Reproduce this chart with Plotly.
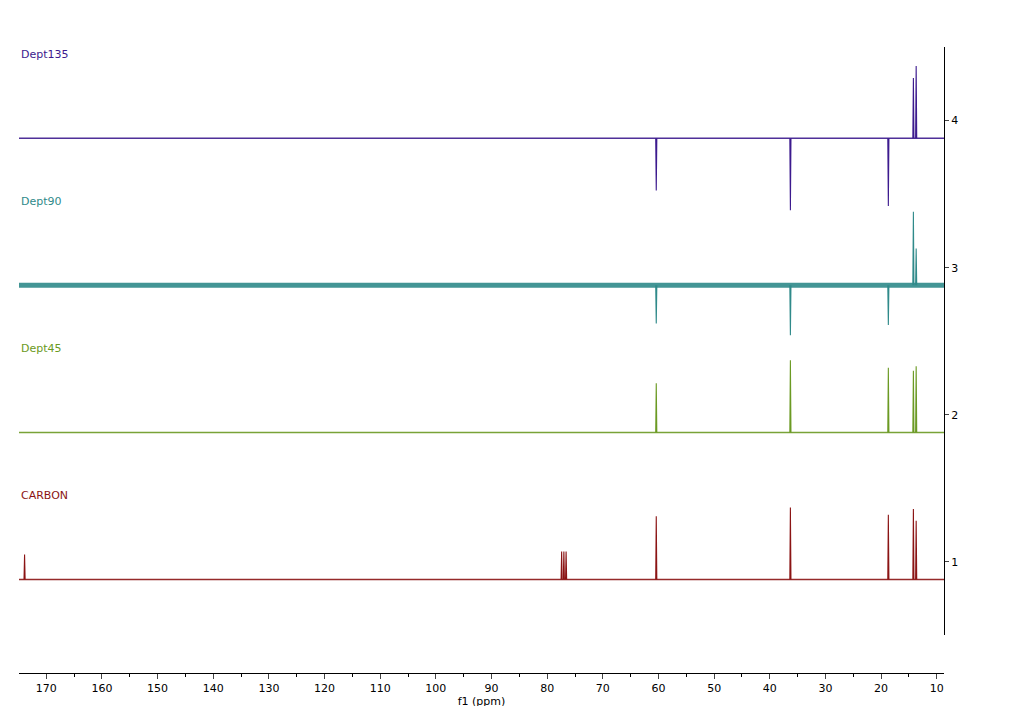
import plotly.graph_objects as go

names = ["CARBON", "Dept45", "Dept90", "Dept135"]
colors = ["#8b1414", "#6b9a23", "#2f8a8a", "#3c1a8e"]
offsets = [0.88, 1.88, 2.88, 3.88]
noise_width = [1.6, 1.4, 5, 1.4]

carbon_ppm = [173.9, 77.4, 77.0, 76.6, 60.4, 36.3, 18.7, 14.2, 13.7]
carbon_h = [0.17, 0.19, 0.19, 0.19, 0.43, 0.49, 0.44, 0.48, 0.40]
dept45_ppm = [60.4, 36.3, 18.7, 14.2, 13.7]
dept45_h = [0.335, 0.49, 0.44, 0.42, 0.45]
dept90_ppm = [60.4, 36.3, 18.7, 14.2, 13.7]
dept90_h = [-0.26, -0.34, -0.27, 0.50, 0.25]
dept135_ppm = [60.4, 36.3, 18.7, 14.2, 13.7]
dept135_h = [-0.355, -0.49, -0.46, 0.41, 0.49]

peaks = [(carbon_ppm, carbon_h), (dept45_ppm, dept45_h), (dept90_ppm, dept90_h), (dept135_ppm, dept135_h)]
x_left, x_right = 174.9, 8.7
ticks = [170, 160, 150, 140, 130, 120, 110, 100, 90, 80, 70, 60, 50, 40, 30, 20, 10]

fig = go.Figure()
for name, col, off, nw, (pp, hh) in zip(names, colors, offsets, noise_width, peaks):
    fig.add_trace(go.Scatter(x=[x_left, x_right], y=[off, off], mode="lines", opacity=0.9,
                             line=dict(color=col, width=nw), showlegend=False, hoverinfo="skip"))
    xs, ys = [], []
    for p, h in sorted(zip(pp, hh), reverse=True):
        xs += [p + 0.1, p, p - 0.1, None]
        ys += [off, off + h, off, None]
    fig.add_trace(go.Scatter(x=xs, y=ys, mode="lines", line=dict(color=col, width=1.1),
                             showlegend=False, hoverinfo="skip"))
    fig.add_annotation(x=x_left, y=off + 0.57, text=name, showarrow=False, xanchor="left",
                       yanchor="middle", font=dict(color=col, size=11, family="DejaVu Sans"))

fig.update_layout(
    width=1024, height=706, plot_bgcolor="white", paper_bgcolor="white",
    margin=dict(l=11, r=88, t=39, b=39),
    font=dict(family="DejaVu Sans", size=11, color="black"),
    xaxis=dict(range=[x_left, x_right], anchor="free", position=0, showgrid=False, zeroline=False,
               showline=True, linecolor="black", linewidth=1, ticks="outside", ticklen=5,
               tickvals=ticks, ticktext=[str(t) for t in ticks],
               minor=dict(dtick=5, tick0=5, ticks="outside", ticklen=3, tickcolor="black"),
               title=dict(text="f1 (ppm)", standoff=0, font=dict(size=11))),
    yaxis=dict(range=[0.5, 4.5], domain=[0.06, 1], side="right", showgrid=False, zeroline=False,
               showline=True, linecolor="black", linewidth=1, ticks="outside", ticklen=4,
               tickvals=[1, 2, 3, 4]),
)
fig.write_html("out.html")
